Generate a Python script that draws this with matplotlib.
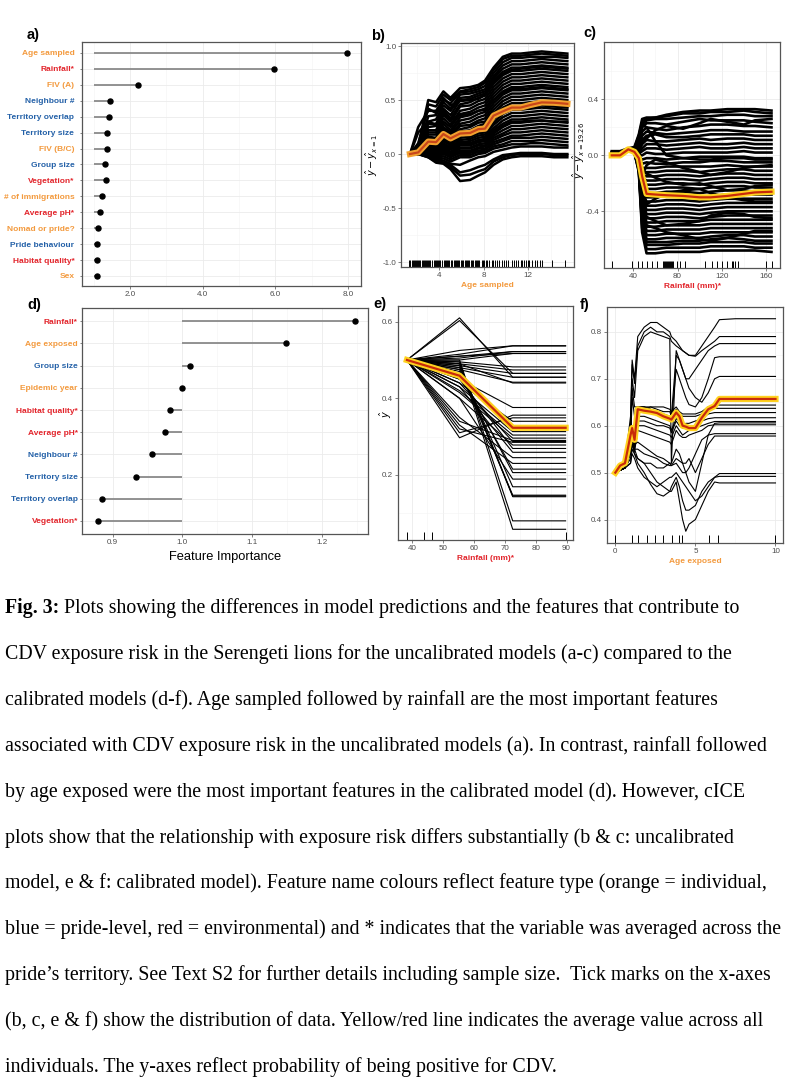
import matplotlib
matplotlib.use('Agg')
import matplotlib.pyplot as plt

plt.rcParams['font.family'] = ['Liberation Sans', 'DejaVu Sans']
plt.rcParams['axes.unicode_minus'] = False

# ---------------- data ----------------
type_colour = {'ind': '#F39A3E', 'pride': '#2461A8', 'env': '#E2242B'}

a_features = ['Age sampled', 'Rainfall*', 'FIV (A)', 'Neighbour #', 'Territory overlap',
              'Territory size', 'FIV (B/C)', 'Group size', 'Vegetation*', '# of immigrations',
              'Average pH*', 'Nomad or pride?', 'Pride behaviour', 'Habitat quality*', 'Sex']
a_types = ['ind', 'env', 'ind', 'pride', 'pride', 'pride', 'ind', 'pride', 'env', 'ind',
           'env', 'ind', 'pride', 'env', 'ind']
a_importance = [7.97, 5.96, 2.22, 1.46, 1.41, 1.36, 1.37, 1.31, 1.34, 1.24, 1.17, 1.13, 1.10, 1.10, 1.08]

d_features = ['Rainfall*', 'Age exposed', 'Group size', 'Epidemic year', 'Habitat quality*',
              'Average pH*', 'Neighbour #', 'Territory size', 'Territory overlap', 'Vegetation*']
d_types = ['env', 'ind', 'pride', 'ind', 'env', 'env', 'pride', 'pride', 'pride', 'env']
d_importance = [1.247, 1.149, 1.011, 1.0, 0.982, 0.975, 0.957, 0.933, 0.884, 0.879]

# b) centred ICE, age sampled
b_x = [1.36, 2.1, 3.0, 3.7, 4.36, 5.0, 5.86, 6.76, 7.5, 8.1, 8.87, 9.7, 10.5, 11.3, 12.2, 13.2, 14.3, 15.5]
b_mean = [0, 0.015, 0.115, 0.11, 0.185, 0.145, 0.19, 0.195, 0.23, 0.235, 0.355, 0.395, 0.43, 0.43, 0.455, 0.478, 0.475, 0.465]
b_curves = [
    [0, 0.08, 0.50, 0.48, 0.58, 0.52, 0.61, 0.62, 0.64, 0.68, 0.80, 0.90, 0.93, 0.93, 0.94, 0.95, 0.94, 0.93],
    [0, 0.05, 0.46, 0.44, 0.55, 0.50, 0.58, 0.60, 0.62, 0.66, 0.78, 0.88, 0.91, 0.91, 0.92, 0.93, 0.92, 0.91],
    [0, 0.25, 0.40, 0.40, 0.50, 0.47, 0.57, 0.58, 0.60, 0.63, 0.75, 0.85, 0.89, 0.89, 0.90, 0.90, 0.90, 0.89],
    [0, 0.02, 0.35, 0.36, 0.48, 0.42, 0.55, 0.56, 0.58, 0.60, 0.72, 0.82, 0.86, 0.86, 0.87, 0.88, 0.87, 0.86],
    [0, 0.20, 0.30, 0.32, 0.45, 0.40, 0.52, 0.53, 0.56, 0.58, 0.70, 0.79, 0.83, 0.83, 0.84, 0.85, 0.84, 0.83],
    [0, 0.03, 0.28, 0.28, 0.42, 0.36, 0.50, 0.51, 0.54, 0.56, 0.68, 0.76, 0.80, 0.80, 0.81, 0.82, 0.81, 0.80],
    [0, 0.04, 0.25, 0.26, 0.40, 0.33, 0.46, 0.48, 0.52, 0.54, 0.65, 0.73, 0.77, 0.77, 0.78, 0.79, 0.78, 0.77],
    [0, 0.02, 0.22, 0.22, 0.36, 0.30, 0.44, 0.45, 0.49, 0.51, 0.62, 0.70, 0.74, 0.74, 0.75, 0.76, 0.75, 0.74],
    [0, 0.03, 0.20, 0.20, 0.33, 0.27, 0.40, 0.42, 0.46, 0.48, 0.59, 0.67, 0.71, 0.71, 0.72, 0.73, 0.72, 0.71],
    [0, 0.02, 0.18, 0.18, 0.30, 0.25, 0.37, 0.39, 0.43, 0.45, 0.56, 0.64, 0.68, 0.68, 0.69, 0.70, 0.69, 0.68],
    [0, 0.02, 0.16, 0.15, 0.28, 0.22, 0.34, 0.36, 0.40, 0.42, 0.53, 0.61, 0.65, 0.65, 0.66, 0.67, 0.66, 0.65],
    [0, 0.01, 0.15, 0.14, 0.25, 0.20, 0.31, 0.33, 0.37, 0.39, 0.50, 0.58, 0.62, 0.62, 0.63, 0.64, 0.63, 0.62],
    [0, 0.02, 0.13, 0.12, 0.23, 0.18, 0.28, 0.30, 0.34, 0.36, 0.47, 0.55, 0.59, 0.59, 0.60, 0.61, 0.60, 0.59],
    [0, 0.01, 0.12, 0.11, 0.21, 0.16, 0.26, 0.27, 0.31, 0.33, 0.44, 0.52, 0.56, 0.56, 0.57, 0.58, 0.57, 0.56],
    [0, 0.01, 0.10, 0.10, 0.19, 0.14, 0.23, 0.25, 0.29, 0.30, 0.41, 0.49, 0.53, 0.53, 0.54, 0.55, 0.54, 0.53],
    [0, 0.01, 0.09, 0.08, 0.17, 0.12, 0.21, 0.22, 0.26, 0.28, 0.38, 0.46, 0.50, 0.50, 0.51, 0.52, 0.51, 0.50],
    [0, 0.01, 0.08, 0.07, 0.15, 0.11, 0.19, 0.20, 0.24, 0.25, 0.35, 0.43, 0.47, 0.47, 0.48, 0.49, 0.48, 0.47],
    [0, 0.00, 0.07, 0.06, 0.13, 0.09, 0.17, 0.18, 0.21, 0.22, 0.32, 0.40, 0.44, 0.44, 0.45, 0.46, 0.45, 0.44],
    [0, 0.01, 0.06, 0.05, 0.12, 0.08, 0.15, 0.16, 0.19, 0.20, 0.29, 0.37, 0.41, 0.41, 0.42, 0.43, 0.42, 0.41],
    [0, 0.00, 0.05, 0.04, 0.10, 0.06, 0.13, 0.14, 0.17, 0.18, 0.27, 0.34, 0.38, 0.38, 0.39, 0.40, 0.39, 0.38],
    [0, 0.00, 0.04, 0.03, 0.09, 0.05, 0.11, 0.12, 0.15, 0.16, 0.24, 0.31, 0.35, 0.35, 0.36, 0.37, 0.36, 0.35],
    [0, 0.00, 0.03, 0.02, 0.07, 0.04, 0.10, 0.10, 0.13, 0.14, 0.22, 0.28, 0.32, 0.32, 0.33, 0.34, 0.33, 0.32],
    [0, 0.00, 0.02, 0.01, 0.06, 0.02, 0.08, 0.08, 0.11, 0.12, 0.19, 0.25, 0.29, 0.29, 0.30, 0.31, 0.30, 0.29],
    [0, 0.00, 0.02, 0.00, 0.05, 0.01, 0.06, 0.06, 0.09, 0.10, 0.17, 0.22, 0.26, 0.26, 0.27, 0.28, 0.27, 0.26],
    [0, 0.00, 0.01, -0.01, 0.03, 0.00, 0.05, 0.05, 0.08, 0.08, 0.15, 0.19, 0.23, 0.23, 0.24, 0.25, 0.24, 0.23],
    [0, 0.00, 0.00, -0.02, 0.02, -0.01, 0.03, 0.03, 0.06, 0.07, 0.13, 0.17, 0.20, 0.20, 0.21, 0.22, 0.21, 0.20],
    [0, 0.00, 0.00, -0.03, 0.01, -0.02, 0.02, 0.02, 0.05, 0.05, 0.11, 0.14, 0.17, 0.17, 0.18, 0.19, 0.18, 0.17],
    [0, 0.00, -0.01, -0.04, 0.00, -0.03, 0.01, 0.01, 0.03, 0.04, 0.09, 0.12, 0.15, 0.15, 0.15, 0.16, 0.15, 0.14],
    [0, 0.00, -0.01, -0.05, -0.02, -0.05, -0.01, -0.01, 0.02, 0.02, 0.07, 0.09, 0.12, 0.12, 0.12, 0.13, 0.12, 0.11],
    [0, 0.00, -0.02, -0.06, -0.04, -0.07, -0.03, -0.03, 0.00, 0.01, 0.05, 0.07, 0.09, 0.09, 0.10, 0.10, 0.09, 0.08],
    [0, 0.00, -0.02, -0.06, -0.06, -0.09, -0.10, -0.06, -0.03, -0.02, 0.02, 0.04, 0.06, 0.07, 0.07, 0.07, 0.06, 0.06],
    [0, 0.00, -0.03, -0.07, -0.08, -0.10, -0.17, -0.15, -0.12, -0.10, -0.05, -0.01, 0.00, 0.01, 0.01, 0.01, 0.00, 0.00],
    [0, 0.00, -0.03, -0.08, -0.09, -0.14, -0.25, -0.24, -0.20, -0.17, -0.10, -0.05, -0.03, -0.02, -0.02, -0.02, -0.03, -0.03],
    [0, 0.00, -0.02, -0.06, -0.08, -0.12, -0.20, -0.19, -0.16, -0.14, -0.07, -0.03, -0.01, 0.00, 0.00, 0.00, -0.01, -0.01],
    [0, 0.10, 0.42, 0.38, 0.52, 0.45, 0.49, 0.50, 0.51, 0.55, 0.66, 0.74, 0.78, 0.79, 0.80, 0.81, 0.80, 0.79],
    [0, 0.04, 0.30, 0.27, 0.38, 0.32, 0.36, 0.37, 0.40, 0.41, 0.50, 0.57, 0.60, 0.60, 0.61, 0.62, 0.61, 0.60],
    [0, 0.02, 0.12, 0.10, 0.20, 0.15, 0.20, 0.21, 0.23, 0.25, 0.33, 0.39, 0.42, 0.43, 0.44, 0.45, 0.44, 0.43],
    [0, 0.01, 0.05, 0.03, 0.08, 0.05, 0.09, 0.09, 0.12, 0.13, 0.20, 0.26, 0.30, 0.30, 0.31, 0.31, 0.30, 0.30],
]
b_rug = [1.3, 1.4, 1.5, 1.6, 1.7, 1.8, 1.9, 2.0, 2.1, 2.2, 2.3, 2.4, 2.5, 2.6, 2.7, 2.8, 2.9, 3.0, 3.1,
         3.2, 3.3, 3.5, 3.6, 3.7, 3.8, 3.9, 4.0, 4.1, 4.2, 4.4, 4.5, 4.6, 4.7, 4.8, 4.9, 5.0, 5.1, 5.3,
         5.4, 5.5, 5.6, 5.7, 5.8, 5.9, 6.0, 6.1, 6.3, 6.4, 6.5, 6.6, 6.7, 6.8, 6.9, 7.0, 7.2, 7.3, 7.4,
         7.5, 7.6, 7.8, 7.9, 8.0, 8.2, 8.3, 8.5, 8.7, 8.8, 9.0, 9.2, 9.4, 9.6, 9.8, 10.0, 10.2, 10.5,
         10.7, 10.9, 11.1, 11.3, 11.4, 11.6, 11.8, 12.0, 12.1, 12.3, 12.6, 12.8, 13.0, 13.2, 14.1, 15.3]

# c) centred ICE, rainfall
c_x = [20.5, 28, 35.5, 41, 45, 48, 52, 60, 70, 85, 100, 110, 125, 140, 150, 165]
c_mean = [0, 0, 0.043, 0.025, -0.02, -0.15, -0.275, -0.28, -0.285, -0.29, -0.30, -0.30, -0.29, -0.275, -0.265, -0.26]
c_curves = [
    [0.03, 0.03, 0.05, 0.06, 0.15, 0.26, 0.27, 0.27, 0.29, 0.31, 0.32, 0.32, 0.33, 0.33, 0.33, 0.32],
    [0.02, 0.02, 0.05, 0.05, 0.14, 0.24, 0.26, 0.27, 0.28, 0.30, 0.30, 0.31, 0.31, 0.32, 0.31, 0.30],
    [0.02, 0.02, 0.05, 0.04, 0.12, 0.22, 0.25, 0.26, 0.26, 0.27, 0.28, 0.28, 0.29, 0.29, 0.28, 0.28],
    [0.01, 0.01, 0.04, 0.04, 0.10, 0.20, 0.23, 0.23, 0.22, 0.24, 0.26, 0.25, 0.25, 0.25, 0.24, 0.23],
    [0.01, 0.01, 0.04, 0.03, 0.08, 0.17, 0.20, 0.19, 0.18, 0.20, 0.21, 0.22, 0.22, 0.21, 0.21, 0.20],
    [0.01, 0.01, 0.04, 0.03, 0.06, 0.14, 0.17, 0.16, 0.15, 0.16, 0.17, 0.18, 0.18, 0.17, 0.17, 0.17],
    [0.00, 0.00, 0.04, 0.03, 0.05, 0.11, 0.14, 0.15, 0.13, 0.13, 0.14, 0.15, 0.15, 0.15, 0.14, 0.14],
    [0.00, 0.00, 0.04, 0.02, 0.03, 0.08, 0.11, 0.10, 0.10, 0.11, 0.12, 0.11, 0.12, 0.12, 0.11, 0.11],
    [0.00, 0.00, 0.04, 0.02, 0.02, 0.05, 0.08, 0.08, 0.07, 0.08, 0.09, 0.08, 0.08, 0.09, 0.08, 0.08],
    [0.00, 0.00, 0.04, 0.02, 0.01, 0.03, 0.05, 0.05, 0.04, 0.05, 0.06, 0.05, 0.05, 0.06, 0.05, 0.05],
    [0.00, 0.00, 0.04, 0.02, 0.00, 0.00, 0.02, 0.01, 0.01, 0.02, 0.02, 0.02, 0.02, 0.03, 0.02, 0.02],
    [0.00, 0.00, 0.04, 0.02, -0.01, -0.03, -0.02, -0.02, -0.03, -0.02, -0.01, -0.01, -0.01, -0.01, -0.02, -0.02],
    [0.00, 0.00, 0.04, 0.02, -0.02, -0.06, -0.05, -0.06, -0.06, -0.05, -0.05, -0.04, -0.04, -0.05, -0.05, -0.05],
    [0.00, 0.00, 0.04, 0.02, -0.02, -0.09, -0.09, -0.09, -0.08, -0.08, -0.08, -0.08, -0.07, -0.08, -0.08, -0.08],
    [0.00, 0.00, 0.04, 0.02, -0.03, -0.12, -0.12, -0.12, -0.11, -0.11, -0.12, -0.11, -0.10, -0.10, -0.11, -0.11],
    [0.00, 0.00, 0.04, 0.02, -0.03, -0.14, -0.15, -0.15, -0.14, -0.14, -0.15, -0.14, -0.13, -0.13, -0.14, -0.14],
    [0.00, 0.00, 0.04, 0.02, -0.04, -0.16, -0.18, -0.18, -0.17, -0.17, -0.18, -0.17, -0.16, -0.16, -0.17, -0.17],
    [0.00, 0.00, 0.04, 0.02, -0.04, -0.18, -0.21, -0.21, -0.20, -0.20, -0.21, -0.20, -0.19, -0.19, -0.20, -0.20],
    [0.00, 0.00, 0.04, 0.02, -0.04, -0.20, -0.24, -0.24, -0.23, -0.23, -0.24, -0.23, -0.22, -0.22, -0.23, -0.23],
    [0.00, 0.00, 0.04, 0.02, -0.05, -0.22, -0.27, -0.27, -0.26, -0.26, -0.27, -0.26, -0.25, -0.25, -0.26, -0.25],
    [0.00, 0.00, 0.04, 0.02, -0.05, -0.25, -0.30, -0.30, -0.29, -0.29, -0.30, -0.29, -0.28, -0.28, -0.28, -0.28],
    [0.00, 0.00, 0.04, 0.02, -0.05, -0.27, -0.33, -0.33, -0.32, -0.32, -0.33, -0.32, -0.31, -0.31, -0.31, -0.31],
    [0.00, 0.00, 0.04, 0.02, -0.06, -0.29, -0.36, -0.36, -0.35, -0.35, -0.36, -0.35, -0.34, -0.34, -0.34, -0.34],
    [0.00, 0.00, 0.04, 0.02, -0.06, -0.31, -0.39, -0.39, -0.38, -0.38, -0.39, -0.38, -0.37, -0.37, -0.37, -0.37],
    [0.00, 0.00, 0.04, 0.02, -0.06, -0.33, -0.42, -0.42, -0.41, -0.41, -0.42, -0.41, -0.40, -0.40, -0.40, -0.40],
    [0.00, 0.00, 0.04, 0.02, -0.07, -0.35, -0.45, -0.45, -0.44, -0.44, -0.45, -0.44, -0.43, -0.43, -0.43, -0.43],
    [0.00, 0.00, 0.04, 0.02, -0.07, -0.37, -0.48, -0.48, -0.47, -0.47, -0.47, -0.46, -0.46, -0.46, -0.46, -0.46],
    [0.00, 0.00, 0.04, 0.02, -0.08, -0.39, -0.51, -0.51, -0.50, -0.50, -0.50, -0.49, -0.49, -0.49, -0.49, -0.49],
    [0.00, 0.00, 0.04, 0.02, -0.08, -0.41, -0.54, -0.54, -0.53, -0.53, -0.53, -0.52, -0.52, -0.52, -0.52, -0.52],
    [0.00, 0.00, 0.04, 0.02, -0.09, -0.43, -0.57, -0.57, -0.56, -0.56, -0.56, -0.55, -0.55, -0.55, -0.55, -0.55],
    [0.00, 0.00, 0.04, 0.02, -0.09, -0.45, -0.60, -0.60, -0.59, -0.59, -0.59, -0.58, -0.57, -0.57, -0.58, -0.58],
    [0.00, 0.00, 0.04, 0.02, -0.10, -0.47, -0.62, -0.62, -0.62, -0.61, -0.61, -0.60, -0.59, -0.60, -0.61, -0.61],
    [0.00, 0.00, 0.04, 0.02, -0.10, -0.49, -0.64, -0.64, -0.64, -0.63, -0.63, -0.62, -0.62, -0.62, -0.63, -0.63],
    [0.00, 0.00, 0.04, 0.02, -0.11, -0.52, -0.67, -0.67, -0.66, -0.66, -0.66, -0.65, -0.65, -0.65, -0.66, -0.66],
    [0.00, 0.00, 0.04, 0.02, -0.12, -0.55, -0.70, -0.70, -0.69, -0.69, -0.69, -0.68, -0.68, -0.68, -0.68, -0.69],
    [0.01, 0.01, 0.05, 0.05, 0.12, 0.22, 0.20, 0.10, 0.00, -0.02, -0.03, -0.03, -0.02, -0.02, -0.03, -0.03],
    [0.00, 0.00, 0.04, 0.02, -0.03, -0.10, -0.13, -0.16, -0.19, -0.21, -0.20, -0.22, -0.25, -0.24, -0.22, -0.21],
    [0.00, 0.00, 0.04, 0.02, -0.05, -0.24, -0.35, -0.31, -0.27, -0.25, -0.24, -0.27, -0.30, -0.32, -0.33, -0.33],
    [0.00, 0.00, 0.04, 0.02, -0.07, -0.36, -0.44, -0.47, -0.50, -0.49, -0.47, -0.43, -0.41, -0.42, -0.44, -0.45],
    [0.00, 0.00, 0.04, 0.02, -0.08, -0.40, -0.50, -0.52, -0.55, -0.57, -0.60, -0.61, -0.59, -0.56, -0.54, -0.54],
    [0.00, 0.00, 0.04, 0.02, -0.04, -0.15, -0.07, -0.03, -0.05, -0.09, -0.12, -0.14, -0.12, -0.09, -0.08, -0.07],
    [0.01, 0.01, 0.04, 0.03, 0.04, 0.10, 0.12, 0.18, 0.21, 0.19, 0.23, 0.26, 0.24, 0.22, 0.25, 0.26],
]
c_rug = [20.5, 39.1, 44.0, 48.1, 52.1, 56.6, 61.2, 66.9, 67.8, 68.7, 69.6, 70.5, 71.4, 72.3, 73.2,
         74.1, 75.0, 75.9, 79.5, 82.2, 86.7, 104.8, 110.9, 115.4, 119.9, 124.4, 129.2, 130.5,
         131.9, 134.6, 159.7, 165.1]

# e) ICE, rainfall (calibrated): every line starts at 0.5
e_x = [38.4, 55.4, 72.6, 89.7]
e_start = 0.5
e_mid = [0.525, 0.515, 0.51, 0.505, 0.50, 0.51, 0.61, 0.603, 0.495, 0.49, 0.485, 0.48, 0.475, 0.49,
         0.45, 0.297, 0.31, 0.44, 0.43, 0.42, 0.415, 0.44, 0.40, 0.45, 0.43, 0.35, 0.33, 0.46,
         0.47, 0.40, 0.48, 0.49, 0.485, 0.475, 0.50, 0.495, 0.34, 0.32]
e_end = [0.537, 0.537, 0.522, 0.522, 0.517, 0.517, 0.455, 0.465, 0.482, 0.474, 0.465, 0.455, 0.442, 0.44,
         0.376, 0.356, 0.349, 0.34, 0.313, 0.304, 0.296, 0.287, 0.278, 0.269, 0.259, 0.245, 0.23, 0.215,
         0.206, 0.189, 0.169, 0.145, 0.143, 0.147, 0.08, 0.058, 0.29, 0.285]
e_mean = [0.5, 0.459, 0.323, 0.323]
e_rug = [38.4, 43.8, 46.6, 89.7]

# f) ICE, age exposed (calibrated)
f_x = [0, 0.3, 0.6, 0.95, 1.05, 1.2, 1.4, 1.8, 2.2, 2.6, 3.0, 3.4, 3.5, 3.8, 4.0, 4.2, 4.4, 4.6,
       5.0, 5.4, 5.8, 6.2, 6.5, 7.5, 10]
f_mean = [0.50, 0.515, 0.52, 0.58, 0.595, 0.57, 0.635, 0.632, 0.63, 0.627, 0.62, 0.615, 0.613, 0.628,
          0.62, 0.60, 0.598, 0.595, 0.595, 0.617, 0.635, 0.642, 0.657, 0.657, 0.657]
f_curves = [
    [0.50, 0.51, 0.52, 0.62, 0.74, 0.70, 0.79, 0.81, 0.82, 0.82, 0.81, 0.80, 0.79, 0.78, 0.77, 0.76, 0.755, 0.75, 0.75, 0.77, 0.79, 0.81, 0.826, 0.828, 0.828],
    [0.50, 0.51, 0.52, 0.60, 0.73, 0.69, 0.77, 0.80, 0.81, 0.80, 0.80, 0.79, 0.78, 0.77, 0.765, 0.76, 0.755, 0.75, 0.748, 0.76, 0.77, 0.78, 0.79, 0.79, 0.79],
    [0.50, 0.51, 0.52, 0.58, 0.70, 0.66, 0.76, 0.79, 0.80, 0.795, 0.79, 0.785, 0.52, 0.76, 0.74, 0.72, 0.70, 0.70, 0.72, 0.74, 0.76, 0.77, 0.775, 0.775, 0.775],
    [0.50, 0.505, 0.51, 0.56, 0.66, 0.62, 0.64, 0.64, 0.635, 0.63, 0.62, 0.615, 0.61, 0.72, 0.70, 0.68, 0.66, 0.645, 0.64, 0.66, 0.70, 0.745, 0.747, 0.747, 0.747],
    [0.50, 0.505, 0.51, 0.57, 0.68, 0.64, 0.64, 0.64, 0.635, 0.63, 0.625, 0.62, 0.62, 0.75, 0.74, 0.72, 0.70, 0.68, 0.66, 0.65, 0.67, 0.70, 0.705, 0.705, 0.705],
    [0.50, 0.505, 0.51, 0.58, 0.60, 0.58, 0.64, 0.64, 0.64, 0.64, 0.64, 0.635, 0.63, 0.64, 0.63, 0.625, 0.625, 0.625, 0.625, 0.63, 0.64, 0.644, 0.644, 0.644, 0.644],
    [0.50, 0.505, 0.51, 0.57, 0.60, 0.57, 0.635, 0.635, 0.64, 0.635, 0.63, 0.63, 0.62, 0.635, 0.625, 0.62, 0.62, 0.62, 0.62, 0.625, 0.635, 0.637, 0.637, 0.637, 0.637],
    [0.50, 0.51, 0.515, 0.56, 0.58, 0.56, 0.62, 0.62, 0.615, 0.61, 0.605, 0.60, 0.59, 0.615, 0.61, 0.60, 0.605, 0.605, 0.61, 0.615, 0.625, 0.628, 0.628, 0.628, 0.628],
    [0.50, 0.505, 0.51, 0.55, 0.575, 0.555, 0.61, 0.61, 0.605, 0.60, 0.60, 0.595, 0.585, 0.61, 0.60, 0.595, 0.595, 0.595, 0.60, 0.61, 0.615, 0.617, 0.617, 0.617, 0.617],
    [0.50, 0.505, 0.51, 0.55, 0.57, 0.55, 0.60, 0.60, 0.595, 0.59, 0.585, 0.58, 0.575, 0.60, 0.59, 0.58, 0.585, 0.59, 0.595, 0.60, 0.605, 0.609, 0.609, 0.609, 0.609],
    [0.50, 0.505, 0.51, 0.54, 0.56, 0.545, 0.59, 0.585, 0.58, 0.575, 0.57, 0.565, 0.56, 0.59, 0.58, 0.575, 0.575, 0.58, 0.585, 0.59, 0.60, 0.602, 0.602, 0.602, 0.602],
    [0.50, 0.505, 0.51, 0.55, 0.58, 0.56, 0.565, 0.555, 0.545, 0.535, 0.53, 0.52, 0.515, 0.52, 0.51, 0.50, 0.50, 0.51, 0.54, 0.57, 0.58, 0.583, 0.583, 0.583, 0.583],
    [0.50, 0.505, 0.51, 0.54, 0.57, 0.55, 0.55, 0.54, 0.535, 0.53, 0.52, 0.515, 0.515, 0.53, 0.525, 0.52, 0.52, 0.53, 0.50, 0.53, 0.56, 0.578, 0.578, 0.578, 0.578],
    [0.50, 0.505, 0.51, 0.53, 0.56, 0.55, 0.53, 0.52, 0.50, 0.48, 0.47, 0.46, 0.46, 0.48, 0.44, 0.40, 0.375, 0.39, 0.40, 0.43, 0.46, 0.48, 0.478, 0.478, 0.478],
    [0.50, 0.505, 0.51, 0.52, 0.55, 0.54, 0.52, 0.50, 0.475, 0.455, 0.45, 0.46, 0.47, 0.49, 0.47, 0.44, 0.42, 0.42, 0.43, 0.46, 0.48, 0.49, 0.492, 0.492, 0.492],
    [0.50, 0.505, 0.51, 0.52, 0.54, 0.53, 0.51, 0.49, 0.48, 0.47, 0.48, 0.49, 0.49, 0.50, 0.49, 0.48, 0.47, 0.46, 0.44, 0.45, 0.47, 0.49, 0.498, 0.498, 0.498],
    [0.50, 0.505, 0.51, 0.55, 0.56, 0.54, 0.53, 0.52, 0.52, 0.51, 0.51, 0.52, 0.52, 0.55, 0.54, 0.52, 0.50, 0.48, 0.46, 0.52, 0.58, 0.605, 0.606, 0.606, 0.606],
]
f_rug = [0.0, 1.04, 1.4, 1.97, 2.5, 2.95, 3.52, 3.95, 4.17, 5.88, 6.42, 10.0]

caption_bold = 'Fig. 3:'
caption_lines = [
    ' Plots showing the differences in model predictions and the features that contribute to',
    'CDV exposure risk in the Serengeti lions for the uncalibrated models (a-c) compared to the',
    'calibrated models (d-f). Age sampled followed by rainfall are the most important features',
    'associated with CDV exposure risk in the uncalibrated models (a). In contrast, rainfall followed',
    'by age exposed were the most important features in the calibrated model (d). However, cICE',
    'plots show that the relationship with exposure risk differs substantially (b & c: uncalibrated',
    'model, e & f: calibrated model). Feature name colours reflect feature type (orange = individual,',
    'blue = pride-level, red = environmental) and * indicates that the variable was averaged across the',
    'pride\u2019s territory. See Text S2 for further details including sample size.  Tick marks on the x-axes',
    '(b, c, e & f) show the distribution of data. Yellow/red line indicates the average value across all',
    'individuals. The y-axes reflect probability of being positive for CDV.',
]

# ---------------- figure ----------------
W, H = 791, 1079
fig = plt.figure(figsize=(W / 100, H / 100), dpi=100)
fig.patch.set_facecolor('white')


def px_axes(x0, y0, x1, y1):
    return fig.add_axes([x0 / W, 1 - y1 / H, (x1 - x0) / W, (y1 - y0) / H])


def frame(ax):
    ax.set_facecolor('white')
    for s in ax.spines.values():
        s.set_edgecolor('#555555')
        s.set_linewidth(0.9)
    ax.grid(True, which='major', color='#EBEBEB', lw=0.6)
    ax.grid(True, which='minor', color='#F3F3F3', lw=0.4)
    ax.set_axisbelow(True)
    ax.tick_params(which='major', length=2, width=0.5, colors='#4D4D4D', labelsize=5.8, pad=1.5)
    ax.tick_params(which='minor', length=0)


def rug(ax, vals):
    ax.vlines(vals, 0, 0.033, transform=ax.get_xaxis_transform(), color='black', lw=0.7, zorder=2)


def mean_line(ax, x, y, outer='#FFD21F', inner='#C82A0A'):
    ax.plot(x, y, color=outer, lw=4.5, zorder=4, solid_joinstyle='round')
    ax.plot(x, y, color=inner, lw=1.6, zorder=5, solid_joinstyle='round')


def lollipop(ax, feats, types, vals, pad):
    rows = list(range(len(feats)))
    ax.hlines(rows, 1.0, vals, color='#8A8A8A', lw=1.3, zorder=2)
    ax.scatter(vals, rows, s=13, color='black', zorder=3)
    ax.set_yticks(rows)
    ax.set_yticklabels(feats, fontweight='bold', fontsize=6)
    for lab, t in zip(ax.get_yticklabels(), types):
        lab.set_color(type_colour[t])
    ax.tick_params(axis='y', pad=pad, length=1.5)


# a)
ax = px_axes(82, 42, 361, 286)
frame(ax)
lollipop(ax, a_features, a_types, a_importance, 4)
ax.set_xlim(0.68, 8.36)
ax.set_ylim(len(a_features) - 1 + 0.63, -0.69)
ax.set_xticks([2, 4, 6, 8])
ax.set_xticklabels(['2.0', '4.0', '6.0', '8.0'])
ax.set_xticks([1, 3, 5, 7], minor=True)

# b)
ax = px_axes(401, 43, 574, 267)
frame(ax)
for cv in b_curves:
    ax.plot(b_x, cv, color='black', lw=1.8, zorder=2)
mean_line(ax, b_x, b_mean, outer='#F2A12E', inner='#C8461A')
rug(ax, b_rug)
ax.set_xlim(0.55, 16.1)
ax.set_ylim(-1.046, 1.028)
ax.set_xticks([4, 8, 12])
ax.set_xticks([2, 6, 10, 14], minor=True)
ax.set_yticks([-1.0, -0.5, 0.0, 0.5, 1.0])
ax.set_yticklabels(['-1.0', '-0.5', '0.0', '0.5', '1.0'])
ax.set_yticks([-0.75, -0.25, 0.25, 0.75], minor=True)
ax.set_xlabel('Age sampled', color=type_colour['ind'], fontweight='bold', fontsize=6, labelpad=2)
ax.set_ylabel(r'$\hat{y}-\hat{y}_{x=1}$', fontsize=7)
ax.yaxis.set_label_coords(-0.12, 0.5)

# c)
ax = px_axes(604, 42, 780, 268)
frame(ax)
for cv in c_curves:
    ax.plot(c_x, cv, color='black', lw=1.9, zorder=2)
mean_line(ax, c_x, c_mean)
rug(ax, c_rug)
ax.set_xlim(13.5, 172.7)
ax.set_ylim(-0.805, 0.81)
ax.set_xticks([40, 80, 120, 160])
ax.set_xticks([20, 60, 100, 140], minor=True)
ax.set_yticks([-0.4, 0.0, 0.4])
ax.set_yticklabels(['-0.4', '0.0', '0.4'])
ax.set_yticks([-0.6, -0.2, 0.2, 0.6], minor=True)
ax.set_xlabel('Rainfall (mm)*', color=type_colour['env'], fontweight='bold', fontsize=6, labelpad=2)
ax.set_ylabel(r'$\hat{y}-\hat{y}_{x=19.26}$', fontsize=7)
ax.yaxis.set_label_coords(-0.095, 0.52)

# d)
ax = px_axes(82, 308, 368, 534)
frame(ax)
lollipop(ax, d_features, d_types, d_importance, 1.5)
ax.set_xlim(0.856, 1.266)
ax.set_ylim(len(d_features) - 1 + 0.59, -0.6)
ax.set_xticks([0.9, 1.0, 1.1, 1.2])
ax.set_xticklabels(['0.9', '1.0', '1.1', '1.2'])
ax.set_xticks([0.95, 1.05, 1.15, 1.25], minor=True)
ax.set_xlabel('Feature Importance', fontsize=9.3, labelpad=4)

# e)
ax = px_axes(398, 306, 573, 540)
frame(ax)
for m, e in zip(e_mid, e_end):
    ax.plot(e_x, [e_start, m, e, e], color='black', lw=0.8, zorder=2)
mean_line(ax, e_x, e_mean)
rug(ax, e_rug)
ax.set_xlim(35.5, 92.1)
ax.set_ylim(0.03, 0.641)
ax.set_xticks([40, 50, 60, 70, 80, 90])
ax.set_xticks([45, 55, 65, 75, 85], minor=True)
ax.set_yticks([0.2, 0.4, 0.6])
ax.set_yticks([0.1, 0.3, 0.5], minor=True)
ax.set_xlabel('Rainfall (mm)*', color=type_colour['env'], fontweight='bold', fontsize=6, labelpad=2)
ax.set_ylabel(r'$\hat{y}$', fontsize=7)
ax.yaxis.set_label_coords(-0.025, 0.54)

# f)
ax = px_axes(607, 307, 783, 543)
frame(ax)
for cv in f_curves:
    ax.plot(f_x, cv, color='black', lw=0.8, zorder=2)
mean_line(ax, f_x, f_mean)
rug(ax, f_rug)
ax.set_xlim(-0.52, 10.47)
ax.set_ylim(0.35, 0.853)
ax.set_xticks([0, 5, 10])
ax.set_xticks([2.5, 7.5], minor=True)
ax.set_yticks([0.4, 0.5, 0.6, 0.7, 0.8])
ax.set_yticks([0.45, 0.55, 0.65, 0.75], minor=True)
ax.set_xlabel('Age exposed', color=type_colour['ind'], fontweight='bold', fontsize=6, labelpad=2)

# panel letters
for lab, (x, y) in zip(['a)', 'b)', 'c)', 'd)', 'e)', 'f)'],
                       [(27, 35), (371, 36), (583, 33), (27, 305), (373, 304), (580, 305)]):
    fig.text(x / W, 1 - y / H, lab, fontsize=10.5, fontweight='bold', va='center', ha='left')

# caption
serif = ['Liberation Serif', 'DejaVu Serif']
y0, step, cap_size = 613, 45.9, 14.3
renderer = fig.canvas.get_renderer()
tb = fig.text(5 / W, 1 - y0 / H, caption_bold, family=serif, fontsize=cap_size,
              fontweight='bold', va='baseline')
x_next = tb.get_window_extent(renderer=renderer).x1 / W
for i, line in enumerate(caption_lines):
    x = x_next if i == 0 else 5 / W
    fig.text(x, 1 - (y0 + i * step) / H, line, family=serif, fontsize=cap_size, va='baseline')

fig.savefig('out.png', dpi=100)
